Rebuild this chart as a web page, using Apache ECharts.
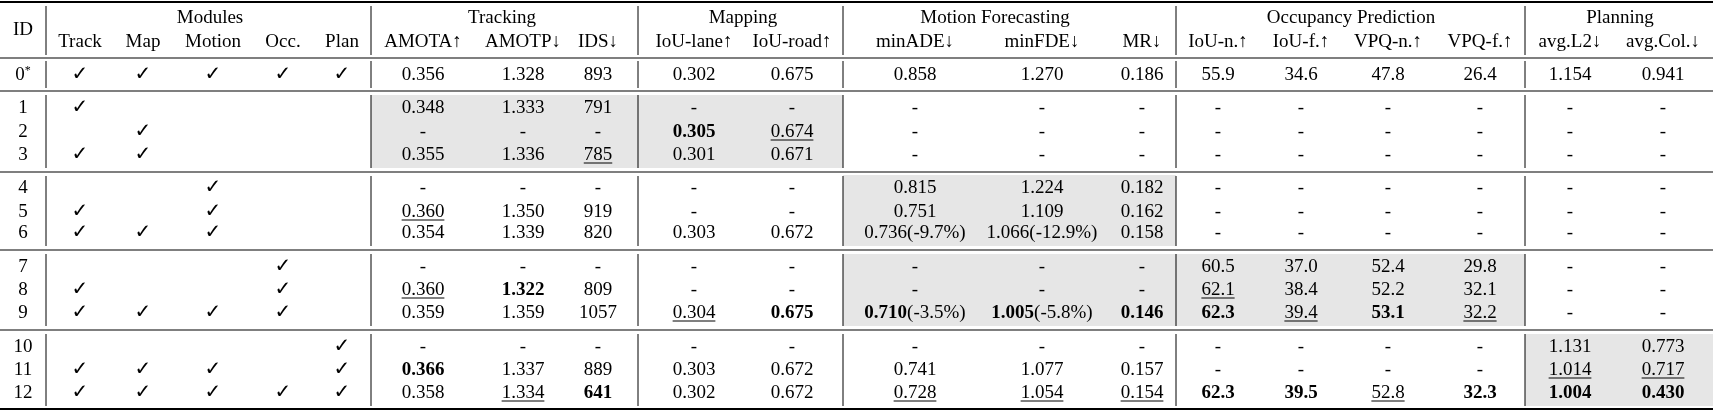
<!DOCTYPE html>
<html lang="en">
<head>
    <meta charset="UTF-8">
    <script src="https://cdn.jsdelivr.net/npm/echarts@6/dist/echarts.min.js"></script>
    <title>Module ablation table</title>
    <style>
        html, body { margin: 0; padding: 0; background: #fff; }
        #chart { width: 1713px; height: 412px; }
    </style>
</head>
<body>
    <div id="chart"></div>
    <script>
        // table content ("b:" = bold, "u:" = underline, "b:x|rest" = bold number + plain suffix)
        var groupHeaders = ['Modules', 'Tracking', 'Mapping', 'Motion Forecasting', 'Occupancy Prediction', 'Planning'];
        var columnHeaders = ['Track', 'Map', 'Motion', 'Occ.', 'Plan', 'AMOTA↑', 'AMOTP↓', 'IDS↓', 'IoU-lane↑', 'IoU-road↑',
            'minADE↓', 'minFDE↓', 'MR↓', 'IoU-n.↑', 'IoU-f.↑', 'VPQ-n.↑', 'VPQ-f.↑', 'avg.L2↓', 'avg.Col.↓'];
        var rowIds = ['0*', '1', '2', '3', '4', '5', '6', '7', '8', '9', '10', '11', '12'];
        var modules = [
            '11111', '10000', '01000', '11000', '00100', '10100', '11100',
            '00010', '10010', '11110', '00001', '11101', '11111'
        ];
        var results = [
            ['0.356', '1.328', '893', '0.302', '0.675', '0.858', '1.270', '0.186', '55.9', '34.6', '47.8', '26.4', '1.154', '0.941'],
            ['0.348', '1.333', '791', '-', '-', '-', '-', '-', '-', '-', '-', '-', '-', '-'],
            ['-', '-', '-', 'b:0.305', 'u:0.674', '-', '-', '-', '-', '-', '-', '-', '-', '-'],
            ['0.355', '1.336', 'u:785', '0.301', '0.671', '-', '-', '-', '-', '-', '-', '-', '-', '-'],
            ['-', '-', '-', '-', '-', '0.815', '1.224', '0.182', '-', '-', '-', '-', '-', '-'],
            ['u:0.360', '1.350', '919', '-', '-', '0.751', '1.109', '0.162', '-', '-', '-', '-', '-', '-'],
            ['0.354', '1.339', '820', '0.303', '0.672', '0.736(-9.7%)', '1.066(-12.9%)', '0.158', '-', '-', '-', '-', '-', '-'],
            ['-', '-', '-', '-', '-', '-', '-', '-', '60.5', '37.0', '52.4', '29.8', '-', '-'],
            ['u:0.360', 'b:1.322', '809', '-', '-', '-', '-', '-', 'u:62.1', '38.4', '52.2', '32.1', '-', '-'],
            ['0.359', '1.359', '1057', 'u:0.304', 'b:0.675', 'b:0.710|(-3.5%)', 'b:1.005|(-5.8%)', 'b:0.146', 'b:62.3', 'u:39.4', 'b:53.1', 'u:32.2', '-', '-'],
            ['-', '-', '-', '-', '-', '-', '-', '-', '-', '-', '-', '-', '1.131', '0.773'],
            ['b:0.366', '1.337', '889', '0.303', '0.672', '0.741', '1.077', '0.157', '-', '-', '-', '-', 'u:1.014', 'u:0.717'],
            ['0.358', 'u:1.334', 'b:641', '0.302', '0.672', 'u:0.728', 'u:1.054', 'u:0.154', 'b:62.3', 'b:39.5', 'u:52.8', 'b:32.3', 'b:1.004', 'b:0.430']
        ];
        // highlighted blocks: [first row, last row, first column, last column]
        var shadedBlocks = [[1, 3, 5, 9], [4, 6, 10, 12], [7, 9, 10, 16], [10, 12, 17, 18]];

        // layout (pixels in chart space)
        var colX = [23, 80, 143, 213, 283, 342, 423, 523, 598, 694, 792, 915, 1042, 1142, 1218, 1301, 1388, 1480, 1570, 1663];
        var groupX = [210, 502, 743, 995, 1351, 1620];
        var sepX = [46, 371, 638, 843, 1176, 1525, 1713];
        var headY1 = 18, headY2 = 42;
        var rowY = [75, 108, 132, 155, 188, 212, 233, 267, 290, 313, 347, 370, 393];
        var bands = [[6, 55], [61, 88], [95, 168], [176, 246], [254, 326], [334, 406]];
        var rules = [[2, 2.2], [58, 1.2], [91, 1.2], [172, 1.2], [250, 1.2], [330, 1.2], [409, 2.2]];
        var FONT = '"Liberation Serif", "Times New Roman", serif';
        var SIZE = 19;

        var measure = document.createElement('canvas').getContext('2d');
        function textWidth(s, bold) {
            measure.font = (bold ? 'bold ' : '') + SIZE + 'px ' + FONT;
            return measure.measureText(s).width;
        }

        // cells: [x, y, raw text]
        var cells = [];
        cells.push([colX[0], (headY1 + headY2) / 2, 'ID']);
        groupHeaders.forEach(function (h, i) { cells.push([groupX[i], headY1, h]); });
        columnHeaders.forEach(function (h, i) { cells.push([colX[i + 1], headY2, h]); });
        rowIds.forEach(function (id, r) {
            cells.push([colX[0], rowY[r], id]);
            modules[r].split('').forEach(function (m, c) {
                if (m === '1') cells.push([colX[c + 1], rowY[r], '✓']);
            });
            results[r].forEach(function (v, c) { cells.push([colX[c + 6], rowY[r], v]); });
        });

        // shapes: shading rects and rules
        var shapes = [];
        shadedBlocks.forEach(function (b) {
            var x0 = b[2] === 5 ? sepX[1] : (b[2] === 10 ? sepX[3] : sepX[5]);
            var x1 = b[3] === 9 ? sepX[3] : (b[3] === 12 ? sepX[4] : (b[3] === 16 ? sepX[5] : sepX[6]));
            var y0 = rowY[b[0]] - 13, y1 = rowY[b[1]] + 13;
            shapes.push(['rect', x0, y0, x1, y1]);
        });
        rules.forEach(function (r) { shapes.push(['hline', 0, r[0], 1713, r[1]]); });
        bands.forEach(function (b) {
            sepX.slice(0, 6).forEach(function (x) { shapes.push(['vline', x, b[0], x, b[1]]); });
        });

        var chart = echarts.init(document.getElementById('chart'));

        function renderShape(params, api) {
            var d = shapes[params.dataIndex];
            var p0 = api.coord([d[1], d[2]]);
            var p1 = api.coord([d[3], d[4]]);
            if (d[0] === 'rect') {
                return { type: 'rect', shape: { x: p0[0], y: p0[1], width: p1[0] - p0[0], height: p1[1] - p0[1] },
                    style: { fill: '#e6e6e6' } };
            }
            if (d[0] === 'hline') {
                var y = api.coord([0, d[2]])[1];
                return { type: 'line', shape: { x1: p0[0], y1: y, x2: api.coord([d[3], 0])[0], y2: y },
                    style: { stroke: '#000', lineWidth: d[4] } };
            }
            return { type: 'line', shape: { x1: p0[0], y1: p0[1], x2: p1[0], y2: p1[1] },
                style: { stroke: '#000', lineWidth: 1 } };
        }

        function renderCell(params, api) {
            var d = cells[params.dataIndex];
            var p = api.coord([d[0], d[1]]);
            var raw = d[2];
            var bold = raw.indexOf('b:') === 0;
            var under = raw.indexOf('u:') === 0;
            var txt = (bold || under) ? raw.slice(2) : raw;
            var parts = txt.split('|');
            var children = [];
            var rich = { b: { fontWeight: 'bold', fontFamily: FONT, fontSize: SIZE, fill: '#000' },
                n: { fontFamily: FONT, fontSize: SIZE, fill: '#000' },
                c: { fontFamily: '"DejaVu Sans", sans-serif', fontWeight: 'bold', fontSize: 20, fill: '#000' },
                s: { fontFamily: FONT, fontSize: 12, fill: '#000', verticalAlign: 'top', padding: [0, 0, 8, 0] } };
            var text;
            if (txt === '0*') text = '{n|0}{s|*}';
            else if (txt === '✓') text = '{c|✓}';
            else if (bold) text = '{b|' + parts[0] + '}' + (parts[1] ? '{n|' + parts[1] + '}' : '');
            else text = '{n|' + txt + '}';
            children.push({ type: 'text', x: p[0], y: p[1],
                style: { text: text, rich: rich, align: 'center', verticalAlign: 'middle',
                    fontFamily: FONT, fontSize: SIZE } });
            if (under) {
                var w = textWidth(txt, false);
                children.push({ type: 'line', shape: { x1: p[0] - w / 2, y1: p[1] + 8, x2: p[0] + w / 2, y2: p[1] + 8 },
                    style: { stroke: '#000', lineWidth: 1 } });
            }
            return { type: 'group', children: children };
        }

        chart.setOption({
            animation: false,
            grid: { left: 0, right: 0, top: 0, bottom: 0 },
            xAxis: { type: 'value', min: 0, max: 1713, show: false },
            yAxis: { type: 'value', min: 0, max: 412, inverse: true, show: false },
            series: [
                { type: 'custom', data: shapes.map(function (s, i) { return [s[1], s[2], i]; }),
                    renderItem: renderShape, silent: true, clip: false },
                { type: 'custom', data: cells.map(function (c) { return [c[0], c[1]]; }),
                    renderItem: renderCell, silent: true, clip: false }
            ]
        });
    </script>
</body>
</html>
